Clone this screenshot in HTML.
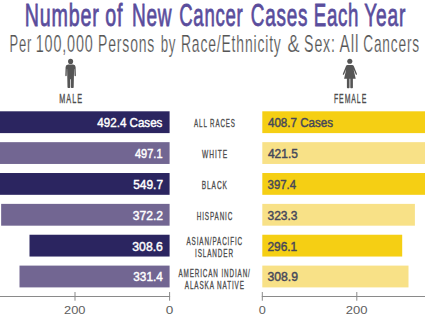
<!DOCTYPE html>
<html><head><meta charset="utf-8"><style>
html,body{margin:0;padding:0;background:#fff;width:425px;height:319px;overflow:hidden}
svg{display:block;font-family:"Liberation Sans",sans-serif}
</style></head><body>
<svg width="425" height="319" viewBox="0 0 425 319">
<rect width="425" height="319" fill="#fff"/>
<rect x="-60.00" y="111.30" width="229.60" height="21.8" fill="#2b2560"/>
<rect x="262.3" y="111.30" width="177.70" height="21.8" fill="#f5cf14"/>
<rect x="-60.00" y="142.16" width="229.60" height="21.8" fill="#726692"/>
<rect x="262.3" y="142.16" width="177.70" height="21.8" fill="#f8e187"/>
<rect x="-80.00" y="173.02" width="249.60" height="21.8" fill="#2b2560"/>
<rect x="262.3" y="173.02" width="177.70" height="21.8" fill="#f5cf14"/>
<rect x="1.15" y="203.88" width="168.45" height="21.8" fill="#726692"/>
<rect x="262.3" y="203.88" width="152.60" height="21.8" fill="#f8e187"/>
<rect x="29.50" y="234.74" width="140.10" height="21.8" fill="#2b2560"/>
<rect x="262.3" y="234.74" width="139.90" height="21.8" fill="#f5cf14"/>
<rect x="19.50" y="265.60" width="150.10" height="21.8" fill="#726692"/>
<rect x="262.3" y="265.60" width="146.20" height="21.8" fill="#f8e187"/>
<rect x="0" y="296.0" width="170.1" height="1" fill="#8a8a8a"/>
<rect x="169.1" y="292" width="1" height="8.7" fill="#8a8a8a"/>
<rect x="74.5" y="292" width="1" height="8.7" fill="#8a8a8a"/>
<rect x="261.8" y="296.0" width="164" height="1" fill="#8a8a8a"/>
<rect x="261.8" y="292" width="1" height="8.7" fill="#8a8a8a"/>
<rect x="356.3" y="292" width="1" height="8.7" fill="#8a8a8a"/>
<g fill="#555555">
<circle cx="70.6" cy="61.4" r="2.55"/>
<path d="M68.2,64.5 H73.1 Q75.5,64.5 75.6,67 L75.9,75.5 Q75.9,76.2 75.2,76.2 Q74.5,76.2 74.5,75.5 L74.3,69 H74.1 L73.7,87.3 Q73.7,88 73,88 H71.6 Q70.95,88 70.95,87.3 V79.3 H70.25 V87.3 Q70.25,88 69.6,88 H68.2 Q67.5,88 67.5,87.3 L67.1,69 H66.9 L66.7,75.5 Q66.7,76.2 66,76.2 Q65.3,76.2 65.3,75.5 L65.6,67 Q65.7,64.5 68.2,64.5 Z"/>
<circle cx="349.8" cy="61.3" r="2.55"/>
<path d="M347.6,64.9 H352 Q353.4,64.9 353.9,66.2 L357,74 Q357.2,74.6 356.6,74.8 Q356.1,75 355.8,74.4 L353.6,69.3 L355.7,78.8 H352.9 V87.5 Q352.9,88.3 352.2,88.3 H351 Q350.3,88.3 350.3,87.5 V78.8 H349.5 V87.5 Q349.5,88.3 348.8,88.3 H347.6 Q346.9,88.3 346.9,87.5 V78.8 H344.1 L346.2,69.3 L344,74.4 Q343.7,75 343.2,74.8 Q342.6,74.6 342.8,74 L345.9,66.2 Q346.3,64.9 347.6,64.9 Z"/>
</g>
<text transform="translate(24.78,25.50) scale(0.6270,1)" font-size="31.40" font-weight="normal" letter-spacing="1.256" fill="#5a4d9c" stroke="#5a4d9c" stroke-width="0.8">Number</text>
<text transform="translate(105.31,25.50) scale(0.6255,1)" font-size="31.40" font-weight="normal" letter-spacing="1.256" fill="#5a4d9c" stroke="#5a4d9c" stroke-width="0.8">of</text>
<text transform="translate(131.98,25.50) scale(0.6068,1)" font-size="31.40" font-weight="normal" letter-spacing="1.256" fill="#5a4d9c" stroke="#5a4d9c" stroke-width="0.8">New</text>
<text transform="translate(179.17,25.50) scale(0.5915,1)" font-size="31.40" font-weight="normal" letter-spacing="1.256" fill="#5a4d9c" stroke="#5a4d9c" stroke-width="0.8">Cancer</text>
<text transform="translate(250.86,25.50) scale(0.6009,1)" font-size="31.40" font-weight="normal" letter-spacing="1.256" fill="#5a4d9c" stroke="#5a4d9c" stroke-width="0.8">Cases</text>
<text transform="translate(313.71,25.50) scale(0.5946,1)" font-size="31.40" font-weight="normal" letter-spacing="1.256" fill="#5a4d9c" stroke="#5a4d9c" stroke-width="0.8">Each</text>
<text transform="translate(364.33,25.50) scale(0.6096,1)" font-size="31.40" font-weight="normal" letter-spacing="1.256" fill="#5a4d9c" stroke="#5a4d9c" stroke-width="0.8">Year</text>
<text transform="translate(9.56,51.50) scale(0.5377,1)" font-size="24.13" font-weight="normal" letter-spacing="1.448" fill="#555555" stroke="#ffffff" stroke-width="0.22">Per</text>
<text transform="translate(35.65,51.50) scale(0.5964,1)" font-size="24.13" font-weight="normal" letter-spacing="1.448" fill="#555555" stroke="#ffffff" stroke-width="0.22">100,000</text>
<text transform="translate(98.08,51.50) scale(0.5787,1)" font-size="24.13" font-weight="normal" letter-spacing="1.448" fill="#555555" stroke="#ffffff" stroke-width="0.22">Persons</text>
<text transform="translate(160.67,51.50) scale(0.5499,1)" font-size="24.13" font-weight="normal" letter-spacing="1.448" fill="#555555" stroke="#ffffff" stroke-width="0.22">by</text>
<text transform="translate(180.89,51.50) scale(0.5775,1)" font-size="24.13" font-weight="normal" letter-spacing="1.448" fill="#555555" stroke="#ffffff" stroke-width="0.22">Race/Ethnicity</text>
<text transform="translate(287.38,51.50) scale(0.7474,1)" font-size="24.13" font-weight="normal" letter-spacing="1.448" fill="#555555" stroke="#ffffff" stroke-width="0.22">&amp;</text>
<text transform="translate(304.09,51.50) scale(0.5871,1)" font-size="24.13" font-weight="normal" letter-spacing="1.448" fill="#555555" stroke="#ffffff" stroke-width="0.22">Sex:</text>
<text transform="translate(339.50,51.50) scale(0.6412,1)" font-size="24.13" font-weight="normal" letter-spacing="1.448" fill="#555555" stroke="#ffffff" stroke-width="0.22">All</text>
<text transform="translate(363.21,51.50) scale(0.5678,1)" font-size="24.13" font-weight="normal" letter-spacing="1.448" fill="#555555" stroke="#ffffff" stroke-width="0.22">Cancers</text>
<text transform="translate(59.32,102.50) scale(0.5669,1)" font-size="12.79" font-weight="normal" letter-spacing="1.791" fill="#4d4d4d" stroke="#4d4d4d" stroke-width="0.35">MALE</text>
<text transform="translate(333.95,102.50) scale(0.5377,1)" font-size="12.79" font-weight="normal" letter-spacing="1.791" fill="#4d4d4d" stroke="#4d4d4d" stroke-width="0.35">FEMALE</text>
<text transform="translate(97.37,127.10) scale(0.9718,1)" font-size="11.92" font-weight="normal" fill="#ffffff" stroke-width="0.42" stroke="#ffffff">492.4 Cases</text>
<text transform="translate(267.97,127.10) scale(0.9718,1)" font-size="11.92" font-weight="normal" fill="#45475a" stroke-width="0.42" stroke="#45475a">408.7 Cases</text>
<text transform="translate(134.98,157.96) scale(0.9253,1)" font-size="11.92" font-weight="normal" fill="#ffffff" stroke-width="0.42" stroke="#ffffff">497.1</text>
<text transform="translate(267.96,157.96) scale(1.0041,1)" font-size="11.92" font-weight="normal" fill="#45475a" stroke-width="0.42" stroke="#45475a">421.5</text>
<text transform="translate(133.27,188.82) scale(0.9974,1)" font-size="11.92" font-weight="normal" fill="#ffffff" stroke-width="0.42" stroke="#ffffff">549.7</text>
<text transform="translate(267.54,188.82) scale(0.9564,1)" font-size="11.92" font-weight="normal" fill="#45475a" stroke-width="0.42" stroke="#45475a">397.4</text>
<text transform="translate(132.72,219.68) scale(1.0166,1)" font-size="11.92" font-weight="normal" fill="#ffffff" stroke-width="0.42" stroke="#ffffff">372.2</text>
<text transform="translate(267.52,219.68) scale(1.0054,1)" font-size="11.92" font-weight="normal" fill="#45475a" stroke-width="0.42" stroke="#45475a">323.3</text>
<text transform="translate(132.31,250.54) scale(1.0262,1)" font-size="11.92" font-weight="normal" fill="#ffffff" stroke-width="0.42" stroke="#ffffff">308.6</text>
<text transform="translate(267.40,250.54) scale(0.9998,1)" font-size="11.92" font-weight="normal" fill="#45475a" stroke-width="0.42" stroke="#45475a">296.1</text>
<text transform="translate(133.28,281.40) scale(0.9892,1)" font-size="11.92" font-weight="normal" fill="#ffffff" stroke-width="0.42" stroke="#ffffff">331.4</text>
<text transform="translate(267.51,281.40) scale(1.0245,1)" font-size="11.92" font-weight="normal" fill="#45475a" stroke-width="0.42" stroke="#45475a">308.9</text>
<text transform="translate(194.10,126.70) scale(0.5547,1)" font-size="11.19" font-weight="normal" letter-spacing="1.567" fill="#4d4d4d" stroke="#4d4d4d" stroke-width="0.35">ALL RACES</text>
<text transform="translate(202.03,158.00) scale(0.5917,1)" font-size="11.19" font-weight="normal" letter-spacing="1.567" fill="#4d4d4d" stroke="#4d4d4d" stroke-width="0.35">WHITE</text>
<text transform="translate(201.78,189.10) scale(0.5853,1)" font-size="11.19" font-weight="normal" letter-spacing="1.567" fill="#4d4d4d" stroke="#4d4d4d" stroke-width="0.35">BLACK</text>
<text transform="translate(196.69,219.90) scale(0.5659,1)" font-size="11.19" font-weight="normal" letter-spacing="1.567" fill="#4d4d4d" stroke="#4d4d4d" stroke-width="0.35">HISPANIC</text>
<text transform="translate(186.50,245.40) scale(0.5631,1)" font-size="11.19" font-weight="normal" letter-spacing="1.567" fill="#4d4d4d" stroke="#4d4d4d" stroke-width="0.35">ASIAN/PACIFIC</text>
<text transform="translate(195.03,257.40) scale(0.5676,1)" font-size="11.19" font-weight="normal" letter-spacing="1.567" fill="#4d4d4d" stroke="#4d4d4d" stroke-width="0.35">ISLANDER</text>
<text transform="translate(178.40,276.60) scale(0.5644,1)" font-size="11.19" font-weight="normal" letter-spacing="1.567" fill="#4d4d4d" stroke="#4d4d4d" stroke-width="0.35">AMERICAN INDIAN/</text>
<text transform="translate(184.80,288.80) scale(0.5665,1)" font-size="11.19" font-weight="normal" letter-spacing="1.567" fill="#4d4d4d" stroke="#4d4d4d" stroke-width="0.35">ALASKA NATIVE</text>
<text transform="translate(64.06,313.90) scale(1.1631,1)" font-size="11.05" font-weight="normal" fill="#5e5e5e">200</text>
<text transform="translate(165.66,313.90) scale(1.2259,1)" font-size="11.05" font-weight="normal" fill="#5e5e5e">0</text>
<text transform="translate(258.69,313.90) scale(1.1504,1)" font-size="11.05" font-weight="normal" fill="#5e5e5e">0</text>
<text transform="translate(345.65,313.90) scale(1.1803,1)" font-size="11.05" font-weight="normal" fill="#5e5e5e">200</text>
</svg>
</body></html>
